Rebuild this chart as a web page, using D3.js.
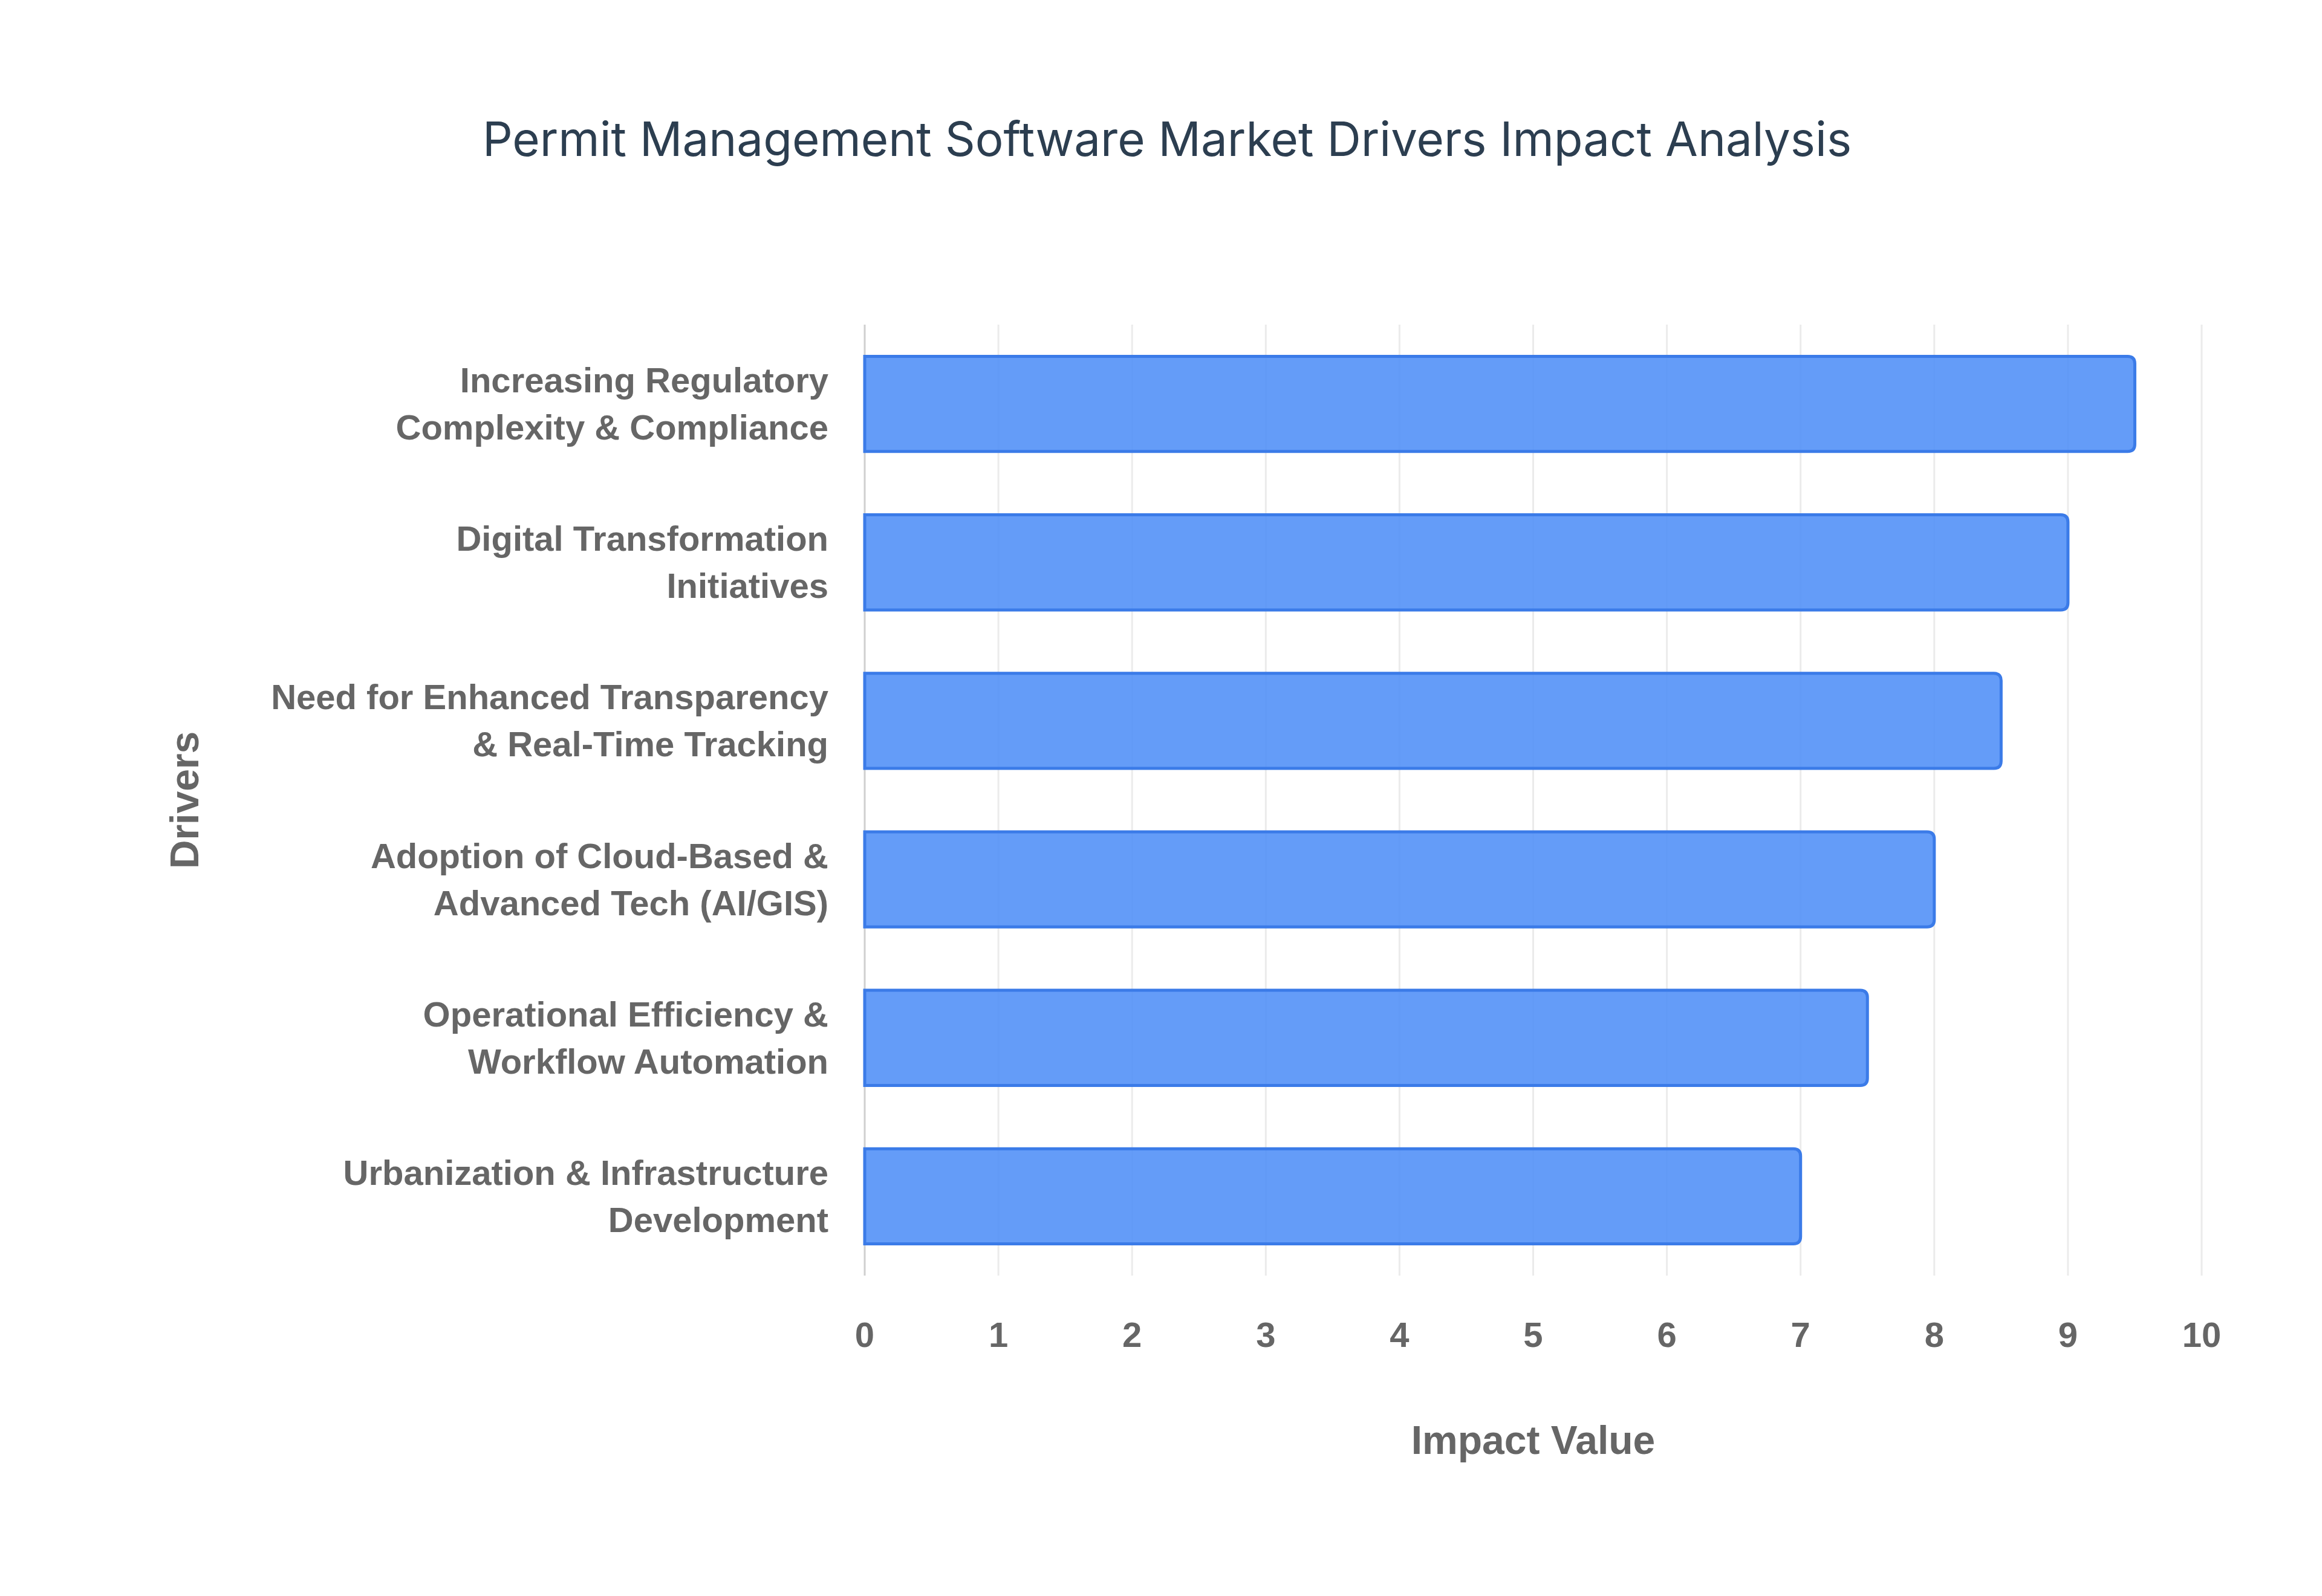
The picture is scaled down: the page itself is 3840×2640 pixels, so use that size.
<!DOCTYPE html>
<html><head><meta charset="utf-8">
<script src="https://cdn.jsdelivr.net/npm/d3@7"></script>
<style>body{margin:0;background:#fff}</style>
</head><body><svg id="c" width="3840" height="2640"></svg>
<script>
const categories = [
  ["Increasing Regulatory","Complexity & Compliance"],
  ["Digital Transformation","Initiatives"],
  ["Need for Enhanced Transparency","& Real-Time Tracking"],
  ["Adoption of Cloud-Based &","Advanced Tech (AI/GIS)"],
  ["Operational Efficiency &","Workflow Automation"],
  ["Urbanization & Infrastructure","Development"]
];
const values = [9.5, 9, 8.5, 8, 7.5, 7];
const ticks = [0,1,2,3,4,5,6,7,8,9,10];

const svg = d3.select("#c");
const L=1430, R=3641, T=537, B=2110;
const x = d3.scaleLinear().domain([0,10]).range([L,R]);
const y = d3.scaleBand().domain(d3.range(categories.length)).range([T,B]).paddingInner(0.4).paddingOuter(0.2);

svg.append("text").attr("x",1930).attr("y",258).attr("text-anchor","middle")
  .attr("font-family","Inter, 'Open Sans', sans-serif").attr("font-size",78).attr("fill","#2c3e50")
  .text("Permit Management Software Market Drivers Impact Analysis");

svg.append("g").selectAll("line").data(ticks).join("line")
  .attr("x1",d=>x(d)).attr("x2",d=>x(d)).attr("y1",T).attr("y2",B)
  .attr("stroke",d=>d===0?"#d0d0d0":"#ebebeb").attr("stroke-width",3);

svg.append("g").selectAll("path").data(values).join("path")
  .attr("d",(d,i)=>{const x0=x(0),x1=x(d),y0=y(i),h=y.bandwidth(),r=12;
    return `M${x0},${y0}H${x1-r}Q${x1},${y0} ${x1},${y0+r}V${y0+h-r}Q${x1},${y0+h} ${x1-r},${y0+h}H${x0}Z`;})
  .attr("fill","#4f8ef7").attr("fill-opacity",0.88).attr("stroke","#3b7be8").attr("stroke-width",5);

const lab = svg.append("g").attr("font-family","'Liberation Sans', Arial, sans-serif")
  .attr("font-weight","bold").attr("font-size",58).attr("fill","#666").attr("text-anchor","end");
categories.forEach((c,i)=>{
  const cy=y(i)+y.bandwidth()/2;
  const t=lab.append("text").attr("x",1370);
  c.forEach((s,j)=>t.append("tspan").attr("x",1370).attr("y",cy+(j-0.5)*78+20).text(s));
});

svg.append("g").selectAll("text").data(ticks).join("text")
  .attr("x",d=>x(d)).attr("y",2228).attr("text-anchor","middle")
  .attr("font-family","'Liberation Sans', Arial, sans-serif").attr("font-weight","bold")
  .attr("font-size",58).attr("fill","#666").text(d=>d);

svg.append("text").attr("x",(L+R)/2).attr("y",2405).attr("text-anchor","middle")
  .attr("font-family","'Liberation Sans', Arial, sans-serif").attr("font-weight","bold")
  .attr("font-size",66).attr("fill","#666").text("Impact Value");
svg.append("text").attr("transform",`translate(328,${(T+B)/2}) rotate(-90)`).attr("text-anchor","middle")
  .attr("font-family","'Liberation Sans', Arial, sans-serif").attr("font-weight","bold")
  .attr("font-size",66).attr("fill","#666").text("Drivers");
</script></body></html>
